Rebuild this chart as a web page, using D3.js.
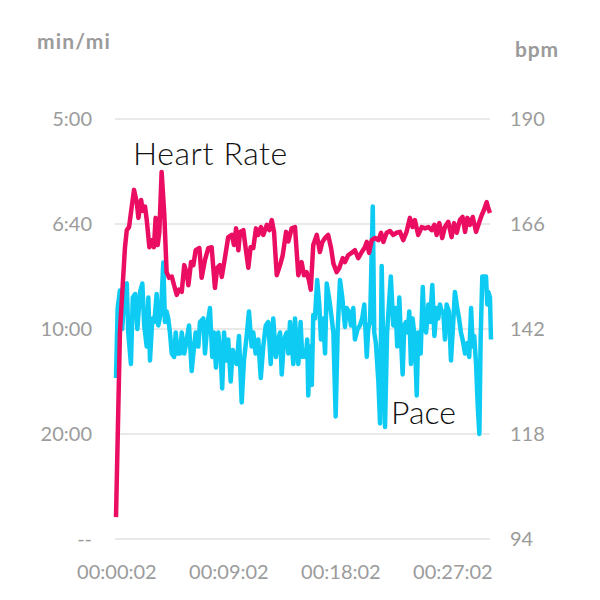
<!DOCTYPE html>
<html><head><meta charset="utf-8">
<script src="https://cdn.jsdelivr.net/npm/d3@7"></script>
<style>html,body{margin:0;padding:0;background:#fff;}</style>
</head><body>
<svg id="chart" width="600" height="600"></svg>
<script>
// Heart rate series: elapsed seconds and bpm
const hrTime = [0,19,43,52,63,76,87,100,108,121,129,140,148,161,172,183,191,201,209,220,233,244,256,269,280,293,304,317,329,341,349,362,373,384,402,413,429,445,461,477,488,501,510,525,541,558,569,579,590,598,614,625,638,649,662,675,686,699,710,727,739,751,762,775,791,804,820,831,847,863,879,895,906,919,930,939,951,968,983,995,1011,1023,1037,1048,1064,1077,1093,1104,1120,1136,1152,1168,1185,1200,1209,1220,1233,1249,1265,1278,1289,1305,1321,1337,1353,1369,1385,1401,1417,1430,1441,1457,1474,1490,1506,1522,1535,1546,1559,1573,1586,1602,1618,1630,1643,1658,1671,1683,1694,1707,1720,1736,1752,1763,1774,1787,1795,1803];
const hrBpm = [99,141.3,160.5,164.6,165.3,170,173.8,171,167.4,171.5,169,170,167,160.7,162.3,160.7,167.4,161.2,164.2,177.9,168,155,153.7,154,152,149.8,151,150.5,156.6,154.8,152,157.3,156.6,160,160.5,153.7,157.8,160.5,160.7,151.4,156,156.6,153.9,158.2,163,163.5,161.2,165,160,164.2,164.6,160.5,156,160.7,160.5,165,163.5,165.3,163.5,165.8,164.6,166.9,164.2,154.3,156.6,158.9,164.2,162,165,165.3,154.3,157.3,154.3,155,153.2,151,161.2,163.5,159.6,161.9,163,163.5,160.5,157,155,156,158.2,157.3,158.9,159.4,160,158.2,159.6,160.7,161.9,159.4,162.3,162.8,162.3,164,161.9,164,164.4,163.5,164,164.2,162.3,164.2,167.4,165.3,166.9,163.5,165.3,165,165.3,164.6,165.8,163.5,166.2,162.8,165.3,166.5,163,166.2,164,166.9,167.6,164.2,167.4,165.8,167.6,164.2,166.5,168,169.2,171,169.6,168.5];

// Pace series: elapsed seconds and speed (mph); pace axis is drawn on a speed scale
const paceTime = [0,8,19,30,43,52,59,72,81,92,103,116,127,136,148,156,164,175,185,196,204,217,228,236,244,252,260,269,280,288,297,309,317,329,341,352,365,373,384,397,405,421,429,440,453,464,472,482,493,505,512,521,530,541,553,563,574,582,593,606,617,630,641,654,662,673,686,698,710,722,734,746,758,771,782,791,799,810,823,831,839,847,855,863,871,879,890,898,906,915,922,927,935,944,951,959,970,980,988,999,1008,1016,1027,1036,1048,1059,1069,1080,1091,1104,1112,1123,1133,1144,1152,1165,1176,1187,1197,1209,1216,1225,1238,1245,1253,1265,1273,1281,1289,1297,1307,1325,1337,1348,1356,1366,1374,1382,1390,1398,1406,1414,1422,1430,1441,1450,1457,1469,1479,1486,1495,1506,1514,1525,1535,1546,1554,1562,1570,1578,1586,1594,1605,1615,1626,1634,1645,1654,1663,1671,1683,1694,1703,1712,1720,1727,1736,1744,1752,1758,1766,1776,1784,1790,1795,1803,1808];
const paceMph = [4.6,6.6,7.1,6.0,7.26,7.3,5.9,5.0,6.9,7.0,6.0,7.06,7.3,6.1,5.5,6.9,5.1,6.3,6.2,7.0,6.1,6.5,7.9,6.2,6.5,6.3,5.9,5.3,5.2,5.9,5.3,5.3,5.9,5.3,5.7,6.1,4.8,5.3,5.9,5.5,6.2,6.3,5.3,6.1,6.6,5.2,5.9,4.9,5.9,5.2,4.3,5.9,5.1,5.7,4.5,5.4,5.1,5.0,5.8,3.9,5.1,5.8,6.5,5.5,5.9,5.3,5.7,4.6,5.5,6.1,6.2,5.0,6.3,5.2,5.7,5.9,4.7,5.7,5.9,5.3,6.2,5.6,5.0,6.3,5.5,5.0,6.2,5.2,5.3,5.2,5.7,4.1,5.5,4.4,6.4,6.3,7.4,6.7,5.7,6.3,5.3,7.3,6.9,6.5,5.9,3.5,6.0,7.4,6.9,6.06,6.6,6.5,6.1,6.6,5.7,6.0,6.1,6.3,6.7,5.2,6.0,6.2,9.5,5.9,5.6,4.5,3.3,7.8,5.3,3.2,5.9,7.5,6.1,6.6,5.5,6.9,5.7,4.7,6.1,6.2,5.9,6.5,5.0,6.3,5.7,4.1,5.9,5.3,7.2,6.1,5.9,6.7,6.2,7.26,5.8,6.6,6.3,6.7,6.5,6.5,5.7,6.7,6.5,5.1,6.2,7.06,6.6,6.3,5.9,5.7,5.3,5.6,5.2,6.6,5.5,5.8,5.0,3.8,3.0,5.7,7.5,7.5,7.5,6.7,7.06,6.9,5.7];

// Axis ticks
const leftTickValues = [0, 3, 6, 9, 12];
const leftTickLabels = ["--", "20:00", "10:00", "6:40", "5:00"];
const rightTickValues = [94, 118, 142, 166, 190];
const xTickValues = [2, 542, 1082, 1622];
const xTickLabels = ["00:00:02", "00:09:02", "00:18:02", "00:27:02"];

const svg = d3.select("#chart");
const x = d3.scaleLinear().domain([0, 1808]).range([116, 491]);
const ySpeed = d3.scaleLinear().domain([0, 12]).range([539, 119]);
const yHr = d3.scaleLinear().domain([94, 190]).range([539, 119]);

const grey = "#9b9b9b";
const font = "Lato, 'Open Sans', sans-serif";

// gridlines
svg.append("g").selectAll("line").data(rightTickValues).join("line")
  .attr("x1", 115).attr("x2", 490)
  .attr("y1", d => yHr(d)).attr("y2", d => yHr(d))
  .attr("stroke", "#e9e9e9").attr("stroke-width", 2);

// left axis
const leftAxis = d3.axisLeft(ySpeed).tickValues(leftTickValues)
  .tickFormat((d, i) => leftTickLabels[i]).tickSize(0).tickPadding(0);
const gl = svg.append("g").attr("transform", "translate(92,0)").call(leftAxis);
gl.select(".domain").remove();
gl.selectAll("text").attr("font-family", font).attr("font-size", 20).attr("fill", grey);

// right axis
const rightAxis = d3.axisRight(yHr).tickValues(rightTickValues).tickSize(0).tickPadding(0);
const gr = svg.append("g").attr("transform", "translate(510,0)").call(rightAxis);
gr.select(".domain").remove();
gr.selectAll("text").attr("font-family", font).attr("font-size", 20).attr("fill", grey);

// bottom axis
const bottomAxis = d3.axisBottom(x).tickValues(xTickValues)
  .tickFormat((d, i) => xTickLabels[i]).tickSize(0).tickPadding(0);
const gb = svg.append("g").attr("transform", "translate(0,565)").call(bottomAxis);
gb.select(".domain").remove();
gb.selectAll("text").attr("font-family", font).attr("font-size", 20).attr("fill", grey);

// unit titles
svg.append("text").attr("x", 74).attr("y", 49).attr("text-anchor", "middle")
  .attr("font-family", font).attr("font-weight", "bold").attr("font-size", 21)
  .attr("letter-spacing", 1.2).attr("fill", grey).text("min/mi");
svg.append("text").attr("x", 537).attr("y", 57).attr("text-anchor", "middle")
  .attr("font-family", font).attr("font-weight", "bold").attr("font-size", 21)
  .attr("letter-spacing", 0.8).attr("fill", grey).text("bpm");

// pace line
const paceData = paceTime.map((t, i) => ({t, v: paceMph[i]}));
svg.append("path").datum(paceData)
  .attr("fill", "none").attr("stroke", "#0ecbf3").attr("stroke-width", 4.5)
  .attr("stroke-linejoin", "round")
  .attr("d", d3.line().x(d => x(d.t)).y(d => ySpeed(d.v)));

// heart rate line
const hrData = hrTime.map((t, i) => ({t, v: hrBpm[i]}));
svg.append("path").datum(hrData)
  .attr("fill", "none").attr("stroke", "#ea0d62").attr("stroke-width", 4.5)
  .attr("stroke-linejoin", "round")
  .attr("d", d3.line().x(d => x(d.t)).y(d => yHr(d.v)));

// series labels
svg.append("text").attr("x", 133).attr("y", 165)
  .attr("font-family", font).attr("font-weight", 300).attr("font-size", 32)
  .attr("letter-spacing", 0.6).attr("fill", "#111").text("Heart Rate");
svg.append("text").attr("x", 391).attr("y", 424)
  .attr("font-family", font).attr("font-weight", 300).attr("font-size", 32)
  .attr("fill", "#111").text("Pace");
</script>
</body></html>
